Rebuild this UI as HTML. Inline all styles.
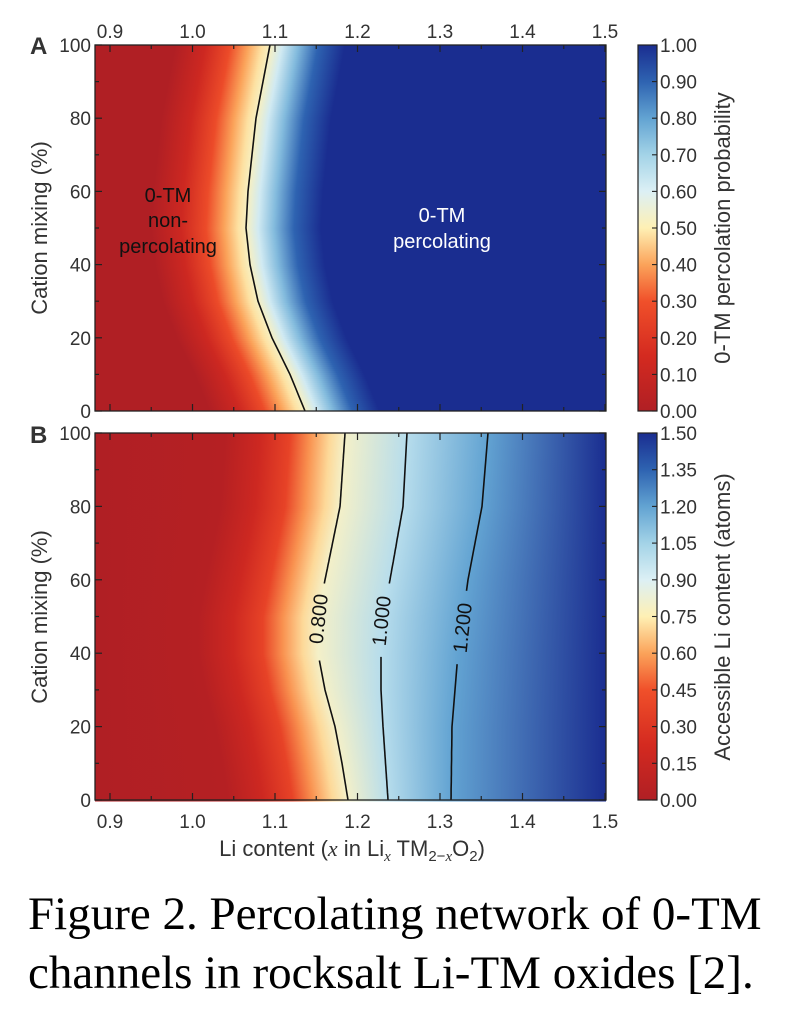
<!DOCTYPE html>
<html><head><meta charset="utf-8"><style>
body{margin:0;background:#fff;width:806px;height:1024px;overflow:hidden}
svg text{font-family:"Liberation Sans",sans-serif;fill:#333}
</style></head><body>
<svg id="s" width="806" height="1024" xmlns="http://www.w3.org/2000/svg">
<defs id="d"></defs>
<g id="g"></g>
</svg>
<script>
const NS="http://www.w3.org/2000/svg";
const svg=document.getElementById('s'),defs=document.getElementById('d'),G=document.getElementById('g');
function el(t,a,p){const e=document.createElementNS(NS,t);for(const k in a)e.setAttribute(k,a[k]);(p||G).appendChild(e);return e;}
const CM=[[0,'#b01f24'],[0.15,'#d42a20'],[0.3,'#f0502a'],[0.4,'#fba35a'],[0.5,'#fef0b4'],[0.6,'#dcf0f5'],[0.7,'#a3d3e7'],[0.8,'#62a3d2'],[0.9,'#2e63b1'],[1,'#1a2d90']];
function interp(pts,y){for(let i=0;i<pts.length-1;i++){const a=pts[i],b=pts[i+1];if(y>=a[0]&&y<=b[0]){return a[1]+(b[1]-a[1])*(y-a[0])/(b[0]-a[0]);}}return y<pts[0][0]?pts[0][1]:pts[pts.length-1][1];}
let gid=0;
function strip(x0,x1,y,h,stops){const id='g'+(gid++);const lg=el('linearGradient',{id:id,gradientUnits:'userSpaceOnUse',x1:x0,x2:x1,y1:0,y2:0},defs);
stops.forEach(s=>{el('stop',{offset:Math.max(0,Math.min(1,(s[0]-x0)/(x1-x0))),'stop-color':s[1]},lg)});
el('rect',{x:x0,y:y,width:x1-x0,height:h,fill:'url(#'+id+')'});}
function col(v){for(let i=0;i<CM.length-1;i++){if(v<=CM[i+1][0]){const t=(v-CM[i][0])/(CM[i+1][0]-CM[i][0]);return mix(CM[i][1],CM[i+1][1],t);}}return CM[CM.length-1][1];}
function mix(a,b,t){const pa=[1,3,5].map(i=>parseInt(a.substr(i,2),16)),pb=[1,3,5].map(i=>parseInt(b.substr(i,2),16));return 'rgb('+pa.map((v,i)=>Math.round(v+(pb[i]-v)*t)).join(',')+')';}
const XL=95,XR=606;
const AT=45,AB=411;const yA=p=>AB-(AB-AT)*p/100;
const cA=[[0,305],[10,290],[20,272],[30,258],[40,250],[50,246],[60,248],[80,256],[90,263],[100,270]];
const dA=[[-95,0],[-65,0.12],[-40,0.28],[-22,0.4],[-8,0.48],[0,0.52],[12,0.62],[28,0.75],[48,0.9],[75,1]];
for(let y=AT;y<AB;y+=2){const p=(AB-y)/(AB-AT)*100;const c=interp(cA,p);strip(XL,XR,y,2.5,dA.map(d=>[c+d[0],col(d[1])]));}
let pa='';for(let p=0;p<=100;p+=2){pa+=(p?'L':'M')+interp(cA,p).toFixed(1)+' '+yA(p).toFixed(1);}
el('path',{d:pa,fill:'none',stroke:'#111','stroke-width':1.6});
const BT=433,BB=800;const yB=p=>BB-(BB-BT)*p/100;
const c8=[[0,348],[10,342],[20,335],[30,325],[40,318],[50,318],[60,325],[80,340],[100,345]];
const c10=[[0,388],[20,383],[30,381],[40,381],[50,383],[60,390],[80,403],[100,407]];
const c12=[[0,451],[20,452],[40,458],[60,468],[80,482],[100,488]];
for(let y=BT;y<BB;y+=2){const p=(BB-y)/(BB-BT)*100;const a=interp(c8,p),b=interp(c10,p),c=interp(c12,p);
const st=[[XL,0],[a-120,0.02],[a-85,0.12],[a-55,0.25],[a-35,0.38],[a-15,0.47],[a,0.53],[b,0.665],[c,0.8],[XR,1]].map(s=>[s[0],col(s[1])]);
strip(XL,XR,y,2.5,st);}
function cline(pts,g1,g2){let d='',m=true;for(let p=0;p<=100;p+=1){const y=yB(p);if(y>g1&&y<g2){m=true;continue;}d+=(m?'M':'L')+interp(pts,p).toFixed(1)+' '+y.toFixed(1);m=false;}el('path',{d:d,fill:'none',stroke:'#111','stroke-width':1.6});}
cline(c8,585,657);cline(c10,587,655);cline(c12,592,662);
[['0.800',320,619],['1.000',383,621],['1.200',464,628]].forEach(l=>{const t=el('text',{x:0,y:0,'font-size':20,'text-anchor':'middle','dominant-baseline':'middle',transform:`translate(${l[1]},${l[2]}) rotate(-84)`});t.textContent=l[0];t.style.fill='#111';});
[[AT,AB],[BT,BB]].forEach(f=>el('rect',{x:XL,y:f[0],width:XR-XL,height:f[1]-f[0],fill:'none',stroke:'#222','stroke-width':1.3}));
const xs=v=>110+(v-0.9)*825;
const xt=['0.9','1.0','1.1','1.2','1.3','1.4','1.5'];
for(let i=0;i<=12;i++){const v=0.9+i*0.05,x=xs(v),L=i%2?4:7;
[[AT,1],[AB,-1],[BT,1],[BB,-1]].forEach(q=>el('line',{x1:x,x2:x,y1:q[0],y2:q[0]+q[1]*L,stroke:'#222','stroke-width':1.2}));}
xt.forEach((t,i)=>{const x=xs(0.9+i*0.1);let e=el('text',{x:x,y:38,'font-size':19,'text-anchor':'middle'});e.textContent=t;e=el('text',{x:x,y:828,'font-size':19,'text-anchor':'middle'});e.textContent=t;});
[[AT,AB],[BT,BB]].forEach(f=>{for(let i=0;i<=10;i++){const y=f[1]-(f[1]-f[0])*i/10,L=i%2?4:7;el('line',{x1:XL,x2:XL+L,y1:y,y2:y,stroke:'#222','stroke-width':1.2});el('line',{x1:XR,x2:XR-L,y1:y,y2:y,stroke:'#222','stroke-width':1.2});
if(i%2==0){const e=el('text',{x:91,y:y+7,'font-size':19,'text-anchor':'end'});e.textContent=String(i*10);}}});
let e;
e=el('text',{x:30,y:54,'font-size':24,'font-weight':'bold'});e.textContent='A';
e=el('text',{x:30,y:443,'font-size':24,'font-weight':'bold'});e.textContent='B';
[[228],[617]].forEach(q=>{e=el('text',{x:0,y:0,'font-size':22,'text-anchor':'middle',transform:`translate(47,${q[0]}) rotate(-90)`});e.textContent='Cation mixing (%)';});
e=el('text',{x:168,y:202,'font-size':20,'text-anchor':'middle'});e.textContent='0-TM';e.style.fill='#111';
e=el('text',{x:168,y:227,'font-size':20,'text-anchor':'middle'});e.textContent='non-';e.style.fill='#111';
e=el('text',{x:168,y:253,'font-size':20,'text-anchor':'middle'});e.textContent='percolating';e.style.fill='#111';
e=el('text',{x:442,y:222,'font-size':20,'text-anchor':'middle',style:'fill:#fff'});e.textContent='0-TM';
e=el('text',{x:442,y:248,'font-size':20,'text-anchor':'middle',style:'fill:#fff'});e.textContent='percolating';
e=el('text',{x:352,y:856,'font-size':22,'text-anchor':'middle'});
e.innerHTML='Li content (<tspan font-family="Liberation Serif" font-style="italic">x</tspan> in Li<tspan font-size="15" dy="5" font-family="Liberation Serif" font-style="italic">x</tspan><tspan dy="-5"> TM</tspan><tspan font-size="15" dy="5">2−<tspan font-family="Liberation Serif" font-style="italic">x</tspan></tspan><tspan dy="-5">O</tspan><tspan font-size="15" dy="5">2</tspan><tspan dy="-5">)</tspan>';
const CX=638,CW=19;
[[AT,AB,1.0,0.1,'0-TM percolation probability',228],[BT,BB,1.5,0.15,'Accessible Li content (atoms)',617]].forEach(cb=>{
const id='cb'+(gid++);const lg=el('linearGradient',{id:id,x1:0,x2:0,y1:1,y2:0},defs);
CM.forEach(s=>el('stop',{offset:s[0],'stop-color':s[1]},lg));
el('rect',{x:CX,y:cb[0],width:CW,height:cb[1]-cb[0],fill:'url(#'+id+')',stroke:'#222','stroke-width':1.2});
for(let i=0;i<=10;i++){const y=cb[1]-(cb[1]-cb[0])*i/10;el('line',{x1:CX+CW-5,x2:CX+CW,y1:y,y2:y,stroke:'#222','stroke-width':1.1});
const t=el('text',{x:CX+CW+3,y:y+7,'font-size':19});t.textContent=(i*cb[3]).toFixed(2);}
const t=el('text',{x:0,y:0,'font-size':22,'text-anchor':'middle',transform:`translate(730,${cb[5]}) rotate(-90)`});t.textContent=cb[4];});
e=el('text',{x:28,y:929,'font-size':47,style:'font-family:"Liberation Serif",serif;fill:#000'});e.textContent='Figure 2. Percolating network of 0-TM';
e=el('text',{x:28,y:988,'font-size':47,style:'font-family:"Liberation Serif",serif;fill:#000'});e.textContent='channels in rocksalt Li-TM oxides [2].';
</script>
</body></html>
